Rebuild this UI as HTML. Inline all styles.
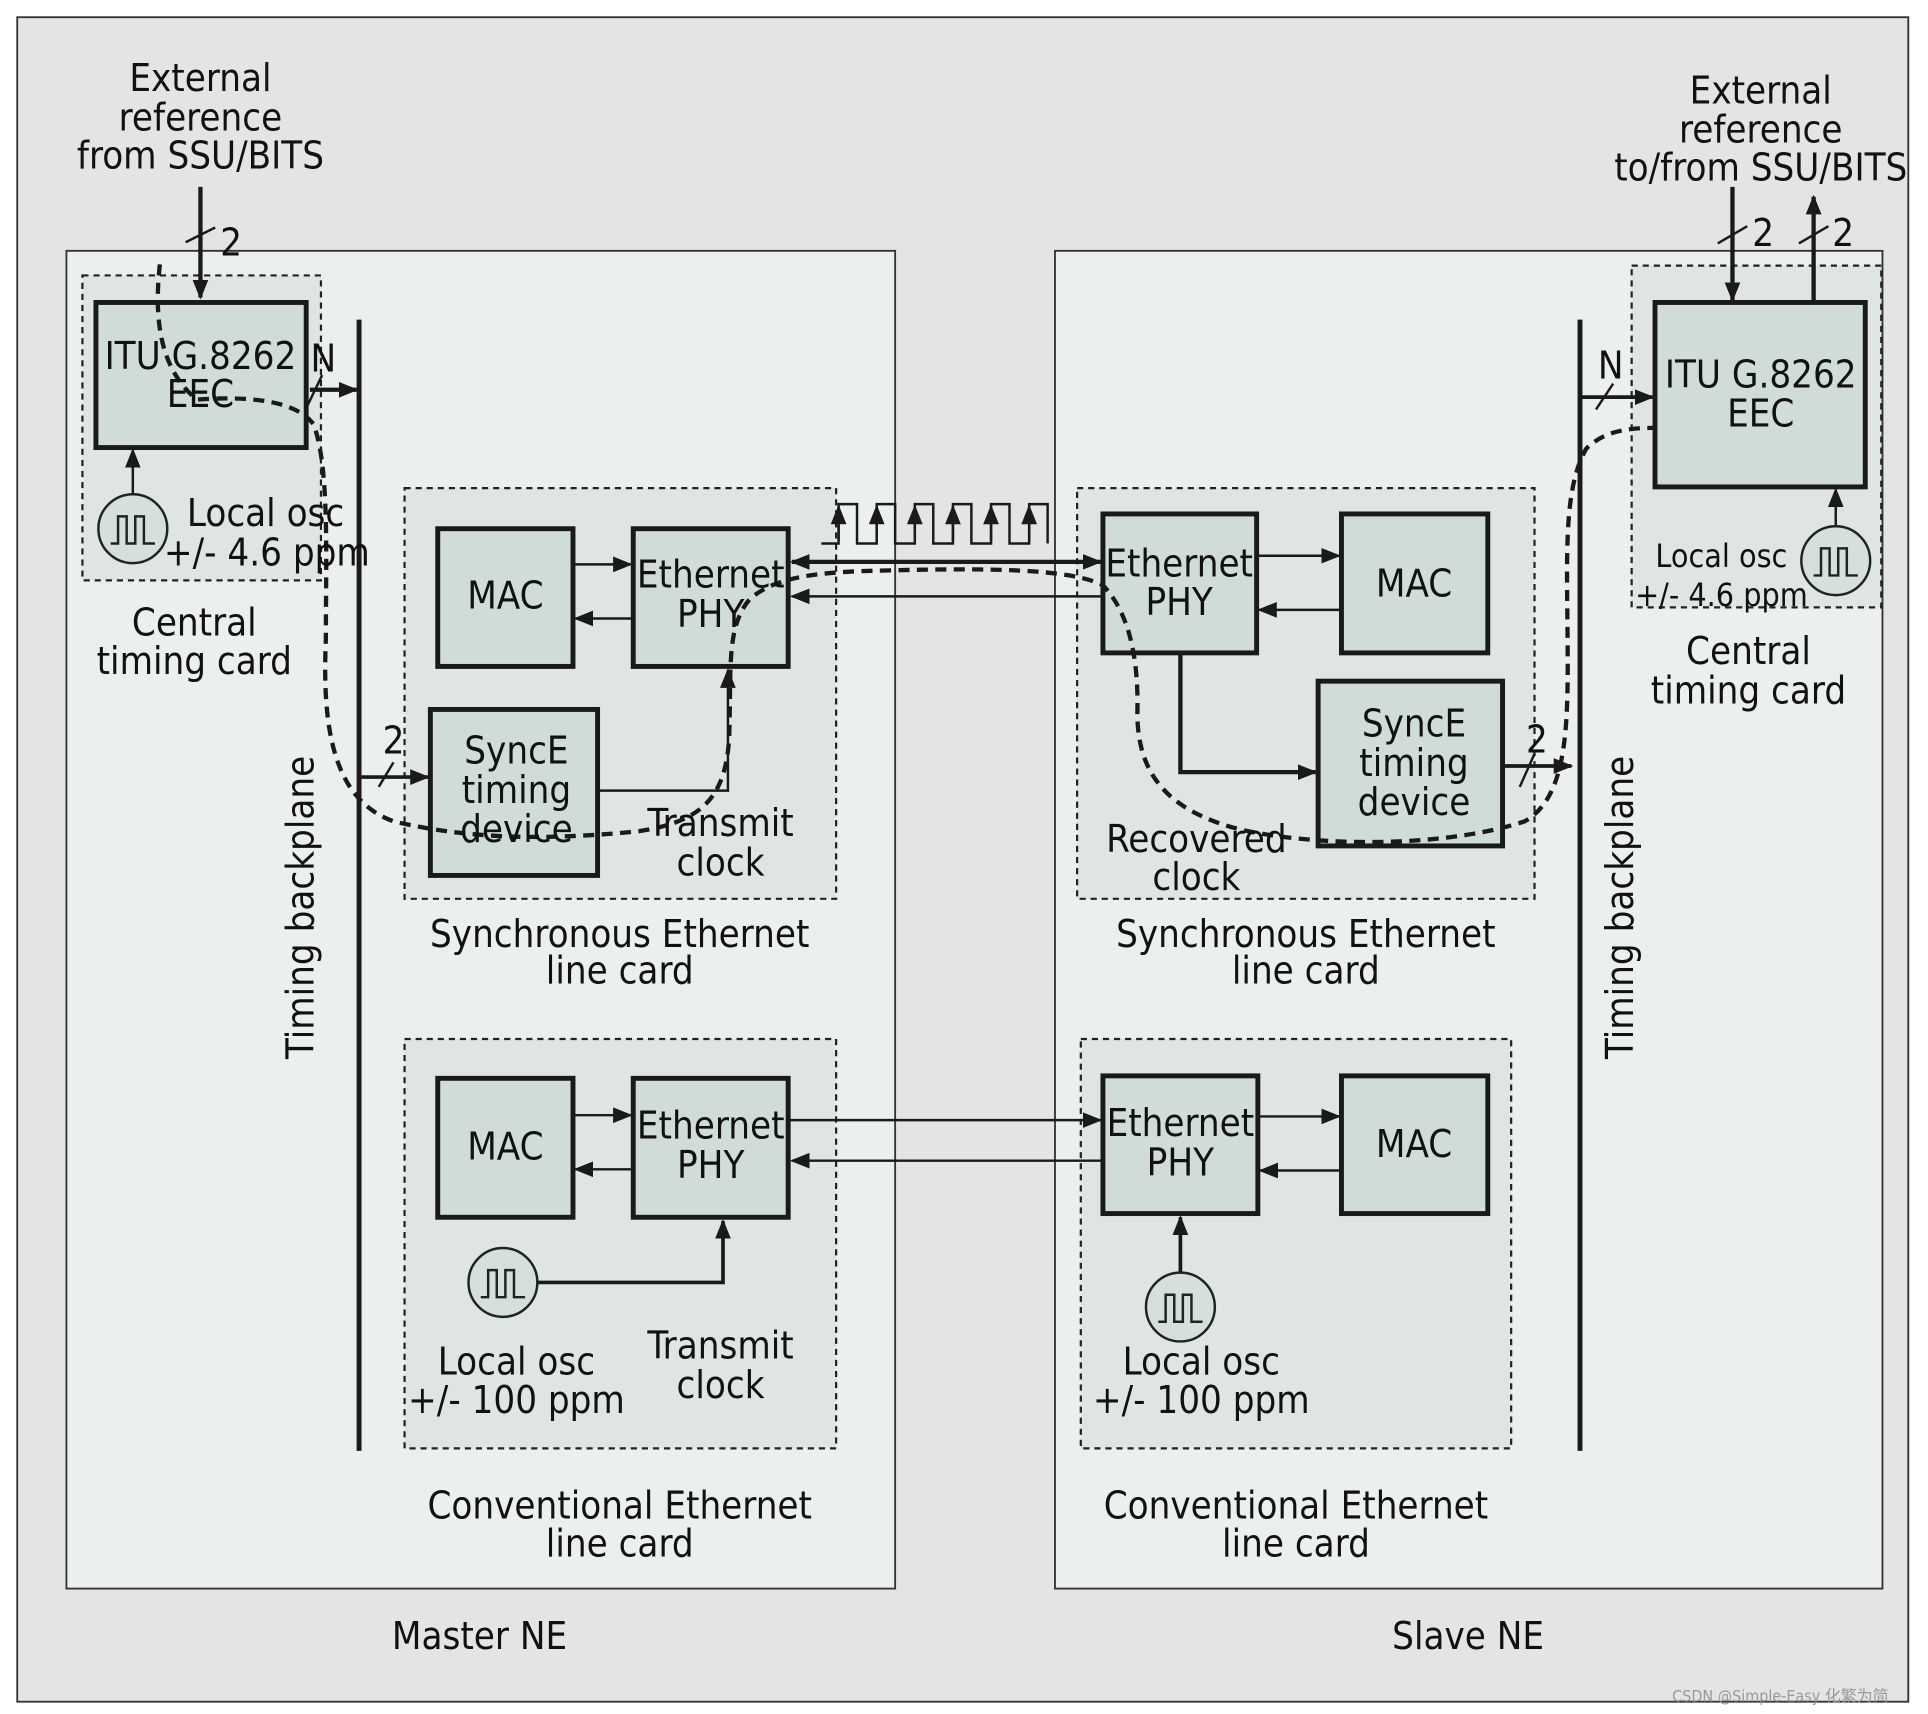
<!DOCTYPE html>
<html><head><meta charset="utf-8"><style>
html,body{margin:0;padding:0;background:#fff}
svg{display:block}
text{font-family:"DejaVu Sans Condensed","Liberation Sans",sans-serif;fill:#111;text-anchor:middle}
</style></head><body>
<svg width="1928" height="1714" viewBox="0 0 1568 1394" xmlns="http://www.w3.org/2000/svg">
<defs>
<marker id="b" viewBox="0 0 10 10" refX="9" refY="5" markerWidth="16" markerHeight="16" orient="auto-start-reverse" markerUnits="userSpaceOnUse"><path d="M0,1 L10,5 L0,9z" fill="#1a1a1a"/></marker>
<g id="osc"><circle r="28" fill="#d6e0da" stroke="#222" stroke-width="2"/><path d="M-18,12 L-12,12 L-12,-10 L-5,-10 L-5,12 L2,12 L2,-10 L9,-10 L9,12 L18,12" fill="none" stroke="#222" stroke-width="2"/></g>
</defs>
<rect x="0" y="0" width="1568" height="1394" fill="#fff"/>
<rect x="14" y="14" width="1538" height="1370" fill="#e4e4e4" stroke="#333" stroke-width="1.5"/>
<rect x="54" y="204" width="674" height="1088" fill="#ebf0ec" stroke="#333" stroke-width="1.5"/>
<rect x="858" y="204" width="673" height="1088" fill="#ebf0ec" stroke="#333" stroke-width="1.5"/>

<g fill="#dfe6e2" stroke="#222" stroke-width="1.8" stroke-dasharray="5,4">
<rect x="67" y="224" width="194" height="248"/>
<rect x="329" y="397" width="351" height="334"/>
<rect x="329" y="845" width="351" height="333"/>
<rect x="876" y="397" width="372" height="334"/>
<rect x="879" y="845" width="350" height="333"/>
<rect x="1327" y="216" width="203" height="278"/>
</g>

<g fill="#d0ddd6" stroke="#1a1a1a" stroke-width="4">
<rect x="78" y="246" width="171" height="118"/>
<rect x="356" y="430" width="110" height="112"/>
<rect x="515" y="430" width="126" height="112"/>
<rect x="350" y="577" width="136" height="135"/>
<rect x="356" y="877" width="110" height="113"/>
<rect x="515" y="877" width="126" height="113"/>
<rect x="897" y="418" width="125" height="113"/>
<rect x="1091" y="418" width="119" height="113"/>
<rect x="1072" y="554" width="150" height="134"/>
<rect x="897" y="875" width="126" height="112"/>
<rect x="1091" y="875" width="119" height="112"/>
<rect x="1346" y="246" width="171" height="150"/>
</g>

<line x1="292" y1="260" x2="292" y2="1180" stroke="#1a1a1a" stroke-width="4"/>
<line x1="1285" y1="260" x2="1285" y2="1180" stroke="#1a1a1a" stroke-width="4"/>

<g stroke="#1a1a1a" stroke-width="2" fill="none">
<line x1="163" y1="152" x2="163" y2="242" stroke-width="3.5" marker-end="url(#b)"/>
<line x1="151" y1="197" x2="175" y2="185"/>
<line x1="108" y1="402" x2="108" y2="366" marker-end="url(#b)"/>
<line x1="252" y1="317" x2="290" y2="317" stroke-width="3.5" marker-end="url(#b)"/>
<line x1="250" y1="330" x2="262" y2="305"/>
<line x1="466" y1="459" x2="513" y2="459" marker-end="url(#b)"/>
<line x1="515" y1="503" x2="468" y2="503" marker-end="url(#b)"/>
<polyline points="486,643 592,643 592,545" marker-end="url(#b)"/>
<line x1="294" y1="632" x2="348" y2="632" stroke-width="3" marker-end="url(#b)"/>
<line x1="308" y1="640" x2="320" y2="620"/>
<line x1="466" y1="907" x2="513" y2="907" marker-end="url(#b)"/>
<line x1="515" y1="951" x2="468" y2="951" marker-end="url(#b)"/>
<polyline points="437,1043 588,1043 588,993" stroke-width="3" marker-end="url(#b)"/>
<line x1="644" y1="457" x2="895" y2="457" stroke-width="3.5" marker-start="url(#b)" marker-end="url(#b)"/>
<line x1="897" y1="485" x2="644" y2="485" marker-end="url(#b)"/>
<line x1="641" y1="911" x2="895" y2="911" marker-end="url(#b)"/>
<line x1="897" y1="944" x2="644" y2="944" marker-end="url(#b)"/>
<path d="M668,442 L682,442 L682,410 L697,410 L697,442 L713,442 L713,410 L728,410 L728,442 L744,442 L744,410 L759,410 L759,442 L775,442 L775,410 L790,410 L790,442 L806,442 L806,410 L821,410 L821,442 L837,442 L837,410 L852,410 L852,442"/>
<g marker-end="url(#b)"><line x1="682" y1="440" x2="682" y2="412"/><line x1="713" y1="440" x2="713" y2="412"/><line x1="744" y1="440" x2="744" y2="412"/><line x1="775" y1="440" x2="775" y2="412"/><line x1="806" y1="440" x2="806" y2="412"/><line x1="837" y1="440" x2="837" y2="412"/></g>
<line x1="1022" y1="452" x2="1089" y2="452" marker-end="url(#b)"/>
<line x1="1091" y1="496" x2="1024" y2="496" marker-end="url(#b)"/>
<polyline points="960,531 960,628 1070,628" stroke-width="3.5" marker-end="url(#b)"/>
<line x1="1222" y1="623" x2="1278" y2="623" stroke-width="3" marker-end="url(#b)"/>
<line x1="1236" y1="640" x2="1248" y2="613"/>
<line x1="1023" y1="908" x2="1089" y2="908" marker-end="url(#b)"/>
<line x1="1091" y1="952" x2="1025" y2="952" marker-end="url(#b)"/>
<line x1="960" y1="1035" x2="960" y2="990" stroke-width="3" marker-end="url(#b)"/>
<line x1="1285" y1="323" x2="1344" y2="323" stroke-width="3" marker-end="url(#b)"/>
<line x1="1298" y1="333" x2="1312" y2="312"/>
<line x1="1493" y1="428" x2="1493" y2="398" marker-end="url(#b)"/>
<line x1="1409" y1="152" x2="1409" y2="244" stroke-width="3.5" marker-end="url(#b)"/>
<line x1="1397" y1="198" x2="1421" y2="184"/>
<line x1="1475" y1="244" x2="1475" y2="160" stroke-width="3.5" marker-end="url(#b)"/>
<line x1="1463" y1="198" x2="1487" y2="184"/>
</g>

<use href="#osc" x="108" y="430"/>
<use href="#osc" x="409" y="1043"/>
<use href="#osc" x="960" y="1063"/>
<use href="#osc" x="1493" y="456"/>

<g stroke="#1a1a1a" stroke-width="3.5" fill="none" stroke-dasharray="9,6">
<path d="M130,215 C125,260 130,300 160,325 C200,322 240,325 255,345 C268,380 265,450 265,520 C262,590 270,650 320,668 C380,682 440,684 520,676 C570,668 590,650 593,600 C595,545 590,510 610,487 C630,470 660,465 720,464 C800,462 870,462 897,476 C920,500 926,540 925,580 C925,630 950,660 1010,675 C1080,690 1180,688 1240,668 C1272,650 1275,600 1275,540 C1275,460 1270,400 1290,365 C1305,350 1325,348 1346,348"/>
</g>

<g font-size="31">
<text x="163" y="74">External</text><text x="163" y="106">reference</text><text x="163" y="137">from SSU/BITS</text>
<text x="188" y="208">2</text>
<text x="163" y="300">ITU G.8262</text><text x="163" y="331">EEC</text>
<text x="263" y="302">N</text>
<text x="216" y="428">Local osc</text><text x="217" y="460">+/- 4.6 ppm</text>
<text x="158" y="517">Central</text><text x="158" y="548">timing card</text>
<text x="320" y="613">2</text>
<text x="411" y="495">MAC</text>
<text x="578" y="478">Ethernet</text><text x="578" y="510">PHY</text>
<text x="420" y="621">SyncE</text><text x="420" y="653">timing</text><text x="420" y="685">device</text>
<text x="586" y="680">Transmit</text><text x="586" y="712">clock</text>
<text x="504" y="770">Synchronous Ethernet</text><text x="504" y="800">line card</text>
<text x="411" y="943">MAC</text>
<text x="578" y="926">Ethernet</text><text x="578" y="958">PHY</text>
<text x="420" y="1118">Local osc</text><text x="420" y="1149">+/- 100 ppm</text>
<text x="586" y="1105">Transmit</text><text x="586" y="1137">clock</text>
<text x="504" y="1235">Conventional Ethernet</text><text x="504" y="1266">line card</text>
<text x="390" y="1341">Master NE</text>
<text x="1194" y="1341">Slave NE</text>
<text x="245" y="738" transform="rotate(-90 245 738)" dy="10">Timing backplane</text>
<text x="1318" y="738" transform="rotate(-90 1318 738)" dy="10">Timing backplane</text>
<text x="959" y="469">Ethernet</text><text x="959" y="500">PHY</text>
<text x="1150" y="485">MAC</text>
<text x="1150" y="599">SyncE</text><text x="1150" y="631">timing</text><text x="1150" y="663">device</text>
<text x="1250" y="612">2</text>
<text x="973" y="693">Recovered</text><text x="973" y="724">clock</text>
<text x="1062" y="770">Synchronous Ethernet</text><text x="1062" y="800">line card</text>
<text x="960" y="924">Ethernet</text><text x="960" y="956">PHY</text>
<text x="1150" y="941">MAC</text>
<text x="977" y="1118">Local osc</text><text x="977" y="1149">+/- 100 ppm</text>
<text x="1054" y="1235">Conventional Ethernet</text><text x="1054" y="1266">line card</text>
<text x="1432" y="84">External</text><text x="1432" y="116">reference</text><text x="1432" y="147">to/from SSU/BITS</text>
<text x="1434" y="200">2</text><text x="1499" y="200">2</text>
<text x="1310" y="308">N</text>
<text x="1432" y="315">ITU G.8262</text><text x="1432" y="347">EEC</text>
<text x="1422" y="540">Central</text><text x="1422" y="572">timing card</text>
</g>
<g font-size="26">
<text x="1400" y="461">Local osc</text><text x="1400" y="493">+/- 4.6 ppm</text>
</g>
<text x="1448" y="1384" font-size="13" style="fill:#999">CSDN @Simple-Easy 化繁为简</text>
</svg>
</body></html>
